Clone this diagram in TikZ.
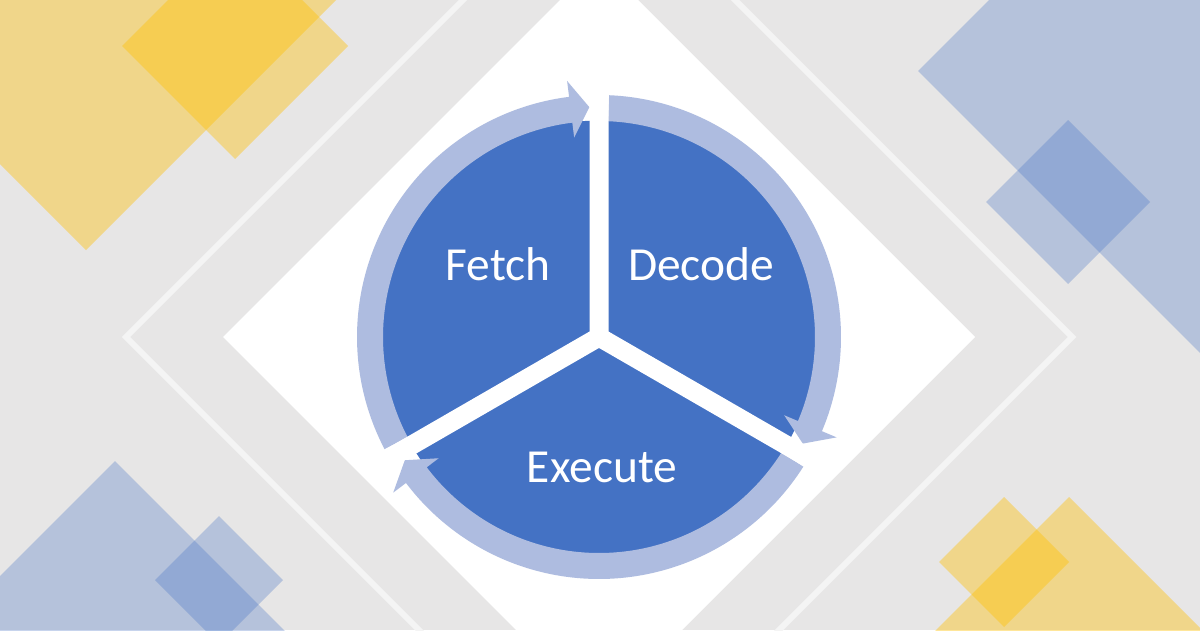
\documentclass[tikz,border=0pt]{standalone}
\usepackage{fontspec}
\setmainfont{Carlito}
\usepackage{tikz}
\definecolor{bgGrey}{HTML}{E7E6E6}
\definecolor{lineGrey}{HTML}{F4F4F4}
\definecolor{accBlue}{HTML}{4472C4}
\definecolor{ringBlue}{HTML}{AEBCE0}
\definecolor{accGold}{HTML}{FFC000}
\tikzset{cycleFig/.style={x=0.02cm,y=0.02cm},
                    goldSq/.style={fill=accGold,fill opacity=0.4},
                    blueSq/.style={fill=accBlue,fill opacity=0.3},
                    ringArc/.style={fill=ringBlue},
                    gapLine/.style={draw=white,line width=0.38cm},
                    stagePie/.style={circle,fill=accBlue,minimum size=8.66cm,inner sep=0pt},
                    stageLabel/.style={text=white,anchor=base,font=\fontsize{27}{32}\selectfont}}

\begin{document}
\begin{tikzpicture}[cycleFig]
			\useasboundingbox (0,0) rectangle (1200,630);
			\clip (0,0) rectangle (1200,630);
			%BACKGROUND
			\fill[bgGrey] (0,0) rectangle (1200,630);
			\draw[lineGrey,line width=0.12cm] (126,293) -- (599,766) -- (1072,293) -- (599,-180) -- cycle;
			\fill[white] (223,293) -- (599,669) -- (975,293) -- (599,-83) -- cycle;
			
			%SQUARES
			\fill[goldSq] (-214,680) -- (86,980) -- (386,680) -- (86,380) -- cycle;
			\fill[goldSq] (122,584) -- (235,697) -- (348,584) -- (235,471) -- cycle;
			\fill[blueSq] (918,559) -- (1218,859) -- (1518,559) -- (1218,259) -- cycle;
			\fill[blueSq] (986,428) -- (1068,510) -- (1150,428) -- (1068,346) -- cycle;
			\fill[blueSq] (-185,-131) -- (115,169) -- (415,-131) -- (115,-431) -- cycle;
			\fill[blueSq] (155,50) -- (219,114) -- (283,50) -- (219,-14) -- cycle;
			\fill[goldSq] (769,-167) -- (1069,133) -- (1369,-167) -- (1069,-467) -- cycle;
			\fill[goldSq] (939,68) -- (1004,133) -- (1069,68) -- (1004,3) -- cycle;
			
			%CYCLE
			\node [stagePie] (pie) at (599,293) {};
			\begin{scope}[shift={(599,293)}]
			%FETCH
			\fill[ringArc] (207.6:242) arc[start angle=207.6,end angle=97.1,radius=242]
				-- (97.1:258) -- (92.4:230) -- (97.1:201) -- (97.1:216)
				arc[start angle=97.1,end angle=207.6,radius=216] -- cycle;
			%DECODE
			\fill[ringArc] (87.6:242) arc[start angle=87.6,end angle=-22.9,radius=242]
				-- (-22.9:258) -- (-27.6:230) -- (-22.9:201) -- (-22.9:216)
				arc[start angle=-22.9,end angle=87.6,radius=216] -- cycle;
			%EXECUTE
			\fill[ringArc] (-32.4:242) arc[start angle=-32.4,end angle=-142.9,radius=242]
				-- (-142.9:258) -- (-147.6:230) -- (-142.9:201) -- (-142.9:216)
				arc[start angle=-142.9,end angle=-32.4,radius=216] -- cycle;
			\end{scope}
			
			\path[gapLine]
			(pie.center) -- ++(90:265)
			(pie.center) -- ++(-30:265)
			(pie.center) -- ++(210:265);
			
			\node [stageLabel] (fetch) at (498,350) {Fetch};
			\node [stageLabel] (decode) at (701,350) {Decode};
			\node [stageLabel] (execute) at (602,148) {Execute};
\end{tikzpicture}
\end{document}
